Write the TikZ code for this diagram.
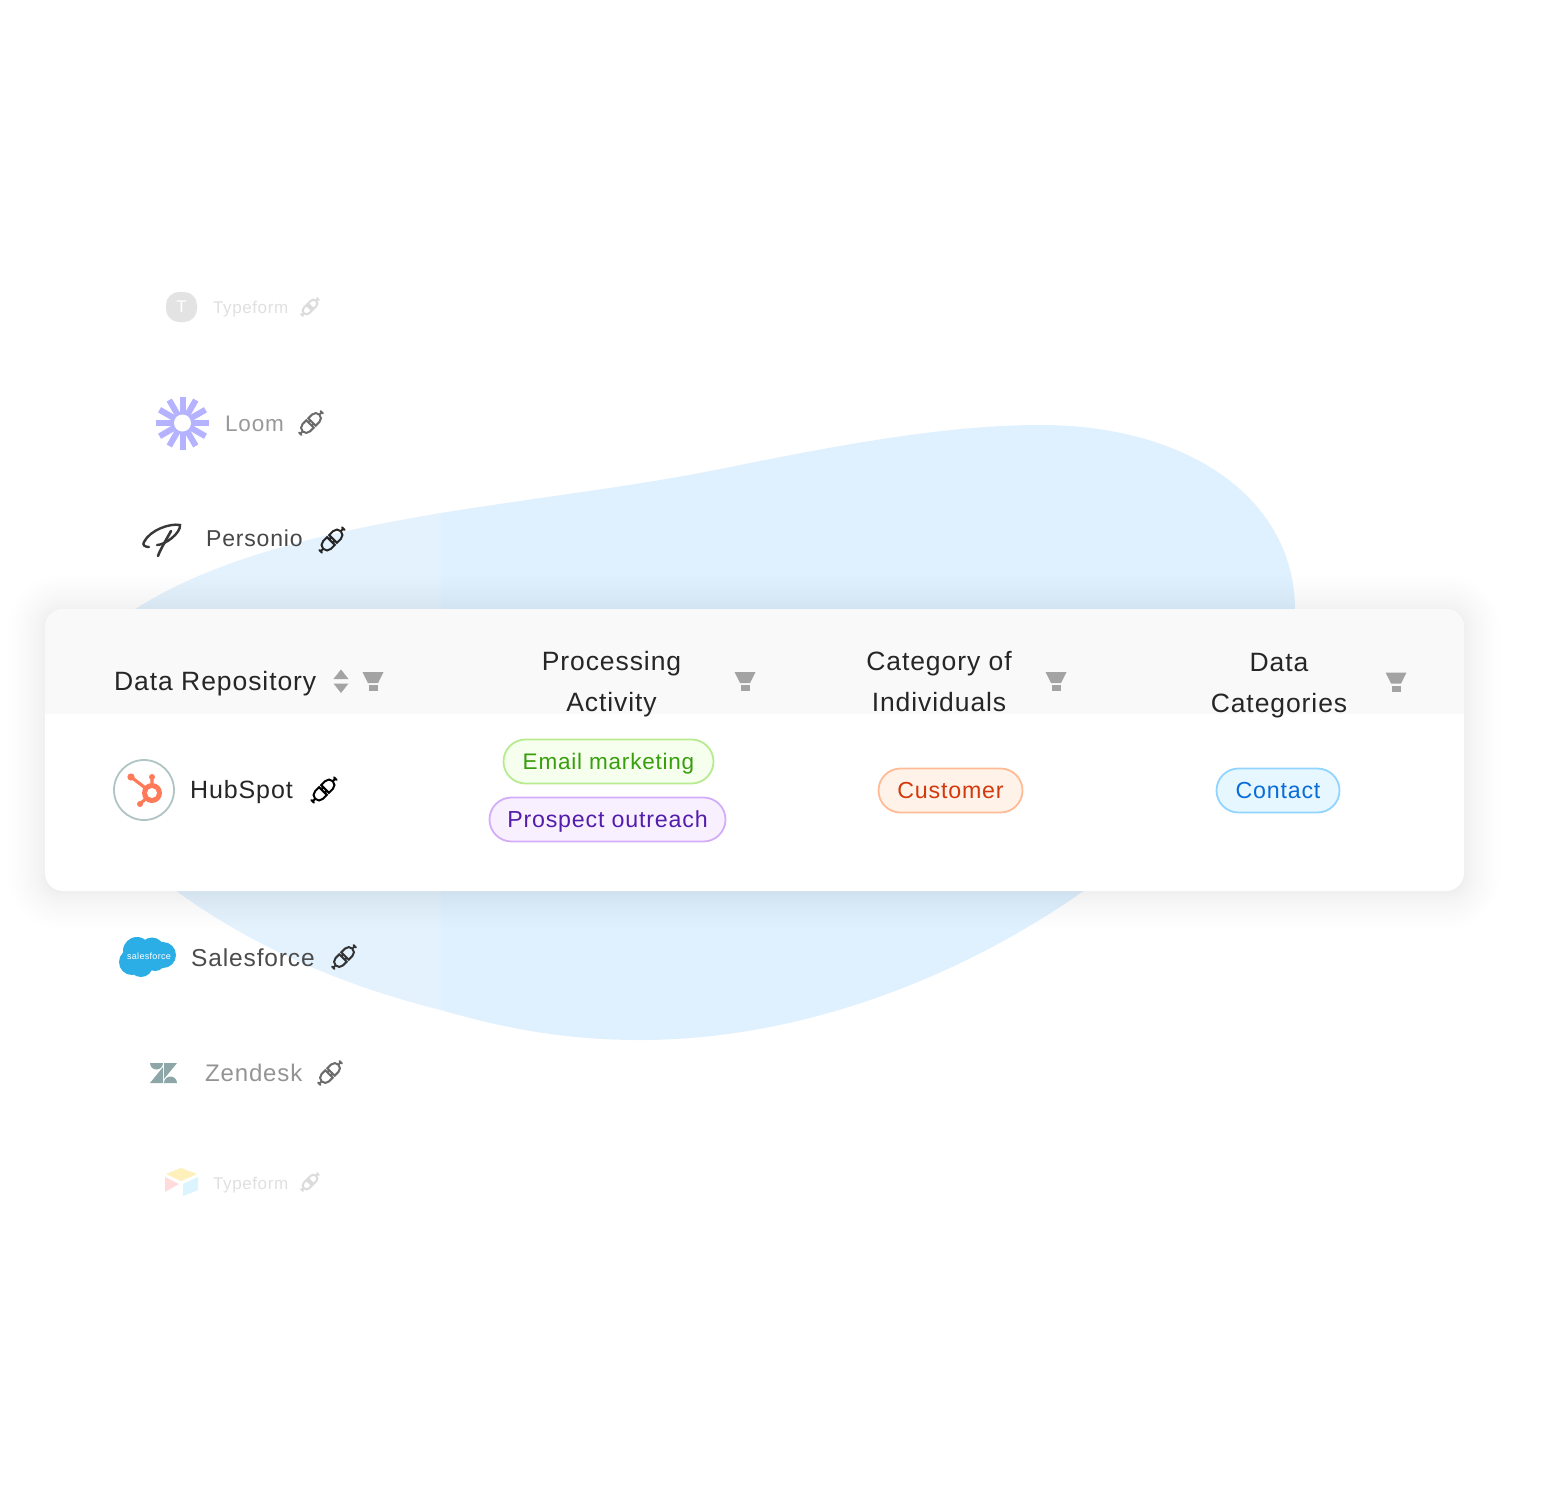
\documentclass[tikz,border=0pt]{standalone}
\usepackage{fontspec}
\setmainfont[LetterSpace=3.5]{Liberation Sans}
\usetikzlibrary{shapes.misc}

\definecolor{blobblue}{HTML}{DFF0FE}
\definecolor{headgray}{HTML}{F9F9F9}
\definecolor{icongray}{HTML}{A3A3A3}
\definecolor{loomblue}{HTML}{B5B3FF}
\definecolor{sforceblue}{HTML}{2BAEE6}
\definecolor{zendeskgray}{HTML}{8FA6A8}
\definecolor{hubspotorange}{HTML}{FF7A59}
\definecolor{hubring}{HTML}{B0C4C4}
\definecolor{greenline}{HTML}{B7EB8F}
\definecolor{greenfill}{HTML}{F6FFED}
\definecolor{greentext}{HTML}{389E0D}
\definecolor{purpleline}{HTML}{D3ADF7}
\definecolor{purplefill}{HTML}{F9F0FF}
\definecolor{purpletext}{HTML}{531DAB}
\definecolor{orangeline}{HTML}{FFBB96}
\definecolor{orangefill}{HTML}{FFF2E8}
\definecolor{orangetext}{HTML}{D4380D}
\definecolor{blueline}{HTML}{91D5FF}
\definecolor{bluefill}{HTML}{E6F7FF}
\definecolor{bluetext}{HTML}{096DD9}

\newcommand{\tsize}[1]{\fontsize{#1}{#1}\selectfont}

\tikzset{
	repolabel/.style={anchor=base west,inner sep=0,font=\tsize{#1}},
	headlabel/.style={anchor=base,align=center,inner sep=0,text=black!85,font=\fontsize{26.5}{41}\selectfont},
	tagpill/.style={rounded rectangle,draw=#1line,fill=#1fill,text=#1text,line width=1.8,minimum height=44,inner sep=0,
		text height=16,text depth=0,font=\tsize{23.2}},
	plugicon/.pic={
		\draw[line width=2,line cap=round,fill=none,pic actions]
			(-16,0) -- (-12.5,0)
			(-16,-1.8) -- (-16,1.8)
			(-1.5,-5.5) -- (-7,-5.5) arc[start angle=270,end angle=90,radius=5.5] -- (-1.5,5.5) -- cycle
			(-1.5,-2.5) -- (1.5,-2.5) (-1.5,2.5) -- (1.5,2.5)
			(1.5,-5.5) -- (7,-5.5) arc[start angle=-90,end angle=90,radius=5.5] -- (1.5,5.5) -- cycle
			(12.5,0) -- (16,0)
			(16,-1.8) -- (16,1.8);
	},
	funnelicon/.pic={
		\fill[icongray] (-10.5,-9.5) -- (10.5,-9.5) -- (5,1.5) -- (-5,1.5) -- cycle;
		\fill[icongray] (-4.5,3.5) rectangle (4.5,9.5);
	}
}

\begin{document}
\begin{tikzpicture}[x=1pt,y=-1pt]
	\useasboundingbox (0,0) rectangle (1543,1500);
	\fill[white] (0,0) rectangle (1543,1500);

	% Blob
	\path[save path=\blobpath] (441,513) .. controls (560,494) and (640,486) .. (740,465)
		.. controls (850,443) and (950,425) .. (1040,425)
		.. controls (1190,425) and (1295,500) .. (1295,610)
		.. controls (1295,720) and (1190,825) .. (1085,890)
		.. controls (950,985) and (790,1040) .. (640,1040)
		.. controls (570,1040) and (510,1030) .. (441,1010)
		.. controls (340,985) and (250,945) .. (175,890)
		.. controls (60,800) and (40,670) .. (137,608)
		.. controls (220,555) and (340,530) .. (441,513) -- cycle;
	\fill[blobblue,use path=\blobpath];
	\begin{scope}
		\clip[use path=\blobpath];
		\fill[white,opacity=.18] (0,400) rectangle (441,1100);
	\end{scope}

	% Card shadow
	\foreach \k in {1,...,16} {
		\pgfmathsetmacro{\grow}{36*(\k/16)^1.6}
		\pgfmathsetmacro{\rad}{18+\grow}
		\fill[rounded corners=\rad,fill=black!70!blue,fill opacity=.004]
			(45-\grow,609-\grow+2) rectangle (1464+\grow,891+\grow+2);
	}

	% Card
	\fill[white,rounded corners=18] (45,609) rectangle (1464,891);
	\begin{scope}
		\clip[rounded corners=18] (45,609) rectangle (1464,891);
		\fill[headgray] (45,609) rectangle (1464,714);
	\end{scope}

	% Header
	\node[repolabel=26.5,text=black!85] (repohead) at (114,690.5) {Data Repository};
	\node[headlabel] (acthead) at (611.5,711) {Processing\\Activity};
	\node[headlabel] (cathead) at (939,711) {Category of\\Individuals};
	\node[headlabel] (datahead) at (1279,712) {Data\\Categories};
	\fill[icongray] (333.5,679) -- (348.5,679) -- (341,669.5) -- cycle;
	\fill[icongray] (333.5,683.5) -- (348.5,683.5) -- (341,693) -- cycle;
	\pic at (373,681.5) {funnelicon};
	\pic at (745,681.5) {funnelicon};
	\pic at (1056,681.5) {funnelicon};
	\pic at (1396,682) {funnelicon};

	% Tags
	\node[tagpill=green,minimum width=210,font=\tsize{22.5}] (emailtag) at (608.5,761.5) {Email marketing};
	\node[tagpill=purple,minimum width=236] (prospecttag) at (607.5,819.5) {Prospect outreach};
	\node[tagpill=orange,minimum width=144] (customertag) at (950.5,790.5) {Customer};
	\node[tagpill=blue,minimum width=123] (contacttag) at (1278,790.5) {Contact};

	% HubSpot row
	\node[circle,draw=hubring,line width=1.8,minimum size=60,inner sep=0] (hublogo) at (144,790) {};
	\draw[hubspotorange,line width=3.2] (131,777) -- (152,793) (152,777) -- (152,793) (140,804) -- (152,793);
	\fill[hubspotorange] (131,777) circle (3.6) (152,777) circle (3) (140,804) circle (3);
	\fill[hubspotorange] (152,793) circle (10);
	\fill[white] (152,793) circle (5);
	\node[repolabel=25,text=black!85] (hubspot) at (190,798) {HubSpot};
	\pic[draw=black,rotate=45] at (324,790) {plugicon};

	% Typeform row
	\fill[black!11,rounded corners=13] (166,292) rectangle (197,322);
	\node[inner sep=0,text=white,font=\tsize{17}] (typeT) at (181.5,307) {T};
	\node[repolabel=17,text=black!12] (typeformtop) at (213,313) {Typeform};
	\pic[draw=black!14,rotate=45,scale=.7,line width=1.3] at (310,307) {plugicon};

	% Loom row
	\foreach \a in {0,30,...,330}
		\draw[loomblue,line width=6] (182.5,423) -- ++(\a:26.5);
	\fill[white] (182.5,423) circle (8.5);
	\node[repolabel=22.5,text=black!40] (loom) at (225,431) {Loom};
	\pic[draw=black!58,rotate=45,scale=.95,line width=1.8] at (311,423) {plugicon};

	% Personio row
	\draw[black!78,line width=2.4,line cap=round] (149,547) .. controls (145,547) and (142,545) .. (144,542)
		.. controls (150,530) and (170,523) .. (180,525) .. controls (181,533) and (165,545) .. (157,545);
	\draw[black!78,line width=2.6,line cap=round] (171,531) .. controls (165,542) and (160,550) .. (158,556);
	\node[repolabel=23,text=black!72] (personio) at (206,546) {Personio};
	\pic[draw=black!85,rotate=45] at (332,540) {plugicon};

	% Salesforce row
	\fill[sforceblue] (137,951) circle (14) (152,950) circle (12.5) (163,955) circle (13) (132,962) circle (13)
		(141,965) circle (12) (155,960) circle (11);
	\node[inner sep=0,text=white,font=\tsize{9}] (sforcelogo) at (149,956) {salesforce};
	\node[repolabel=24.5,text=black!70] (salesforce) at (191,966) {Salesforce};
	\pic[draw=black!80,rotate=45,scale=.95,line width=1.8] at (344,957) {plugicon};

	% Zendesk row
	\fill[zendeskgray] (150,1063) -- (163,1063) arc[start angle=0,end angle=180,radius=6.5] -- cycle;
	\fill[zendeskgray] (163,1067) -- (163,1083) -- (150,1083) -- cycle;
	\fill[zendeskgray] (164,1063) -- (177,1063) -- (164,1079) -- cycle;
	\fill[zendeskgray] (177,1083) -- (164,1083) arc[start angle=180,end angle=360,radius=6.5] -- cycle;
	\node[repolabel=24,text=black!42] (zendesk) at (205,1081) {Zendesk};
	\pic[draw=black!58,rotate=45,scale=.95,line width=1.8] at (330,1073) {plugicon};

	% Airtable row
	\fill[yellow!60!orange!25] (181,1168) -- (197,1174) -- (181,1181) -- (166,1174) -- cycle;
	\fill[cyan!14] (183,1184) -- (198,1177) -- (198,1190) -- (183,1196) -- cycle;
	\fill[red!14] (165,1177) -- (179,1184) -- (165,1192) -- cycle;
	\node[repolabel=17,text=black!12] (typeformbot) at (213,1189) {Typeform};
	\pic[draw=black!14,rotate=45,scale=.7,line width=1.3] at (310,1182) {plugicon};
\end{tikzpicture}
\end{document}
